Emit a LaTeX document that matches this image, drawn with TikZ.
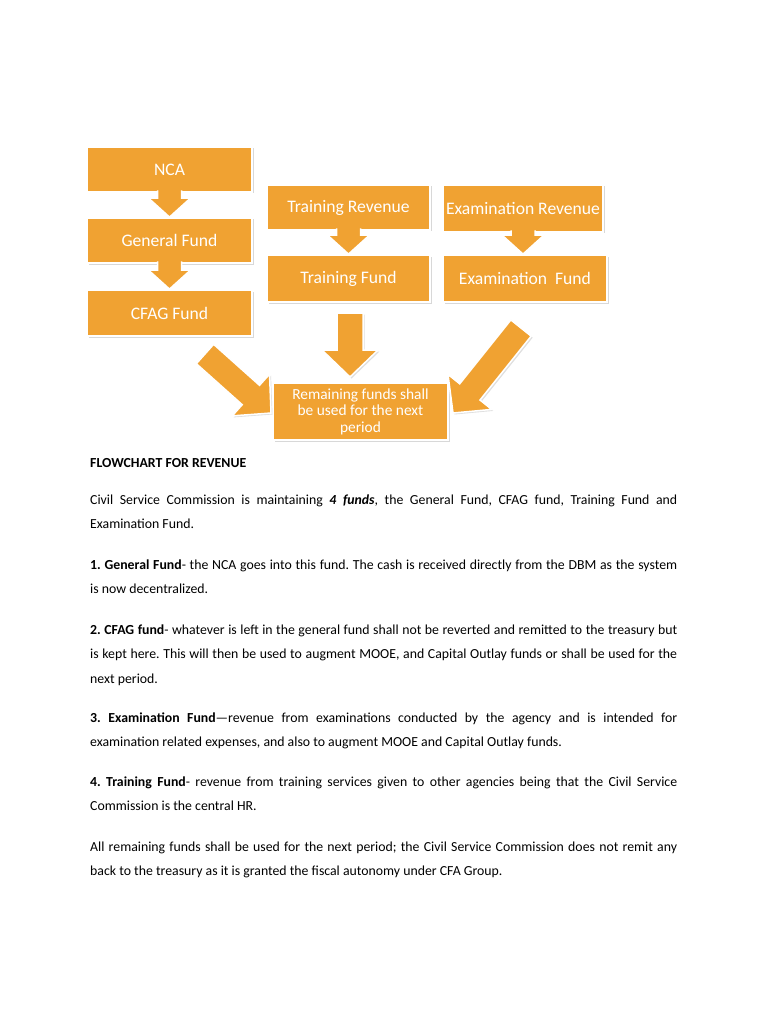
\documentclass[tikz,border=0pt]{standalone}
\usepackage{fontspec}
\setmainfont{Carlito}
\usetikzlibrary{positioning, calc, shadows}

\definecolor{fundorange}{HTML}{F0A232}
\frenchspacing

\tikzset{
    fundbox/.style={draw=white, line width=1.8pt, fill=fundorange, text=white, inner sep=0pt,
        font=\fontsize{17.6}{20}\selectfont,
        drop shadow={opacity=0.3, shadow xshift=1.5pt, shadow yshift=-1.5pt}},
    arrowline/.style={draw=white, line width=1.5pt, line join=miter},
    bigflow/.style={fill=fundorange, arrowline,
        drop shadow={opacity=0.25, shadow xshift=1.5pt, shadow yshift=-1.5pt}},
    para/.style={anchor=base west, inner sep=0pt, text width=587pt, align=justify,
        font=\fontsize{13.8}{24.6}\selectfont},
}

% small chevron from the bottom of one box to the top of the next
\newcommand{\downchevron}[2]{%
    \coordinate (ctop) at (#1.south);
    \coordinate (ctip) at (#1.south |- #2.north);
    \fill[fundorange] ($(ctop)+(-12,-2.5)$) -- ($(ctip)+(-12,-19)$) -- ($(ctip)+(-21,-19)$) -- (ctip)
        -- ($(ctip)+(21,-19)$) -- ($(ctip)+(12,-19)$) -- ($(ctop)+(12,-2.5)$) -- cycle;
    \draw[arrowline] ($(ctop)+(-12,-2.5)$) -- ($(ctip)+(-12,-19)$) -- ($(ctip)+(-21,-19)$) -- (ctip)
        -- ($(ctip)+(21,-19)$) -- ($(ctip)+(12,-19)$) -- ($(ctop)+(12,-2.5)$);
}

% big block arrow from #1 (tail) to #2 (tip)
\newcommand{\bigarrow}[2]{%
    \coordinate (hb) at ($(#2)!27pt!(#1)$);
    \path[bigflow] ($(#1)!13pt!90:(#2)$) -- ($(hb)!13pt!90:(#2)$) -- ($(hb)!28pt!90:(#2)$) -- (#2)
        -- ($(hb)!28pt!-90:(#2)$) -- ($(hb)!13pt!-90:(#2)$) -- ($(#1)!13pt!-90:(#2)$) -- cycle;
}

\begin{document}
\begin{tikzpicture}[x=1pt, y=-1pt]
    \fill[white] (0,0) rectangle (768,1024);
    \useasboundingbox (0,0) rectangle (768,1024);

    % boxes
    \node[fundbox, minimum width=165pt, minimum height=45pt] (nca) at (169.5,169.5) {NCA};
    \node[fundbox, minimum width=165pt, minimum height=45pt] (general) at (169.5,240.5) {General Fund};
    \node[fundbox, minimum width=165pt, minimum height=46pt] (cfag) at (169.5,313) {CFAG Fund};
    \node[fundbox, minimum width=163pt, minimum height=45pt] (trev) at (348.5,207.5) {Training Revenue};
    \node[fundbox, minimum width=163pt, minimum height=47pt] (tfund) at (348.5,278.5) {Training Fund};
    \node[fundbox, minimum width=160pt, minimum height=47pt] (exrev) at (523,208.5) {Examination Revenue};
    \node[fundbox, minimum width=164pt, minimum height=47pt] (exfund) at (525,278.5) {Examination\ \ Fund};
    \node[fundbox, minimum width=175pt, minimum height=57pt, align=center,
        font=\fontsize{15.4}{16.5}\selectfont] (remain) at (360.5,411.5)
        {Remaining funds shall\\be used for the next\\period};

    % chevrons
    \downchevron{nca}{general}
    \downchevron{general}{cfag}
    \downchevron{trev}{tfund}
    \downchevron{exrev}{exfund}

    % big arrows into the last box
    \coordinate (ltail) at (205,354);
    \coordinate (ltip) at (271,413);
    \coordinate (mtail) at (350,313);
    \coordinate (mtip) at (350,377);
    \coordinate (rtail) at (521,328);
    \coordinate (rtip) at (453,413);
    \bigarrow{ltail}{ltip}
    \bigarrow{mtail}{mtip}
    \bigarrow{rtail}{rtip}

    % text below the chart
    \node[anchor=base west, inner sep=0pt, font=\fontsize{13.8}{14}\selectfont\bfseries] (title) at (90,467) {FLOWCHART FOR REVENUE};
    \node[para] (intro) at (90,504) {Civil Service Commission is maintaining \textbf{\textit{4 funds}}, the General Fund, CFAG fund, Training Fund and\linebreak Examination Fund.};
    \node[para] (item1) at (90,569) {\textbf{1. General Fund}- the NCA goes into this fund. The cash is received directly from the DBM as the system\linebreak is now decentralized.};
    \node[para] (item2) at (90,634) {\textbf{2. CFAG fund}- whatever is left in the general fund shall not be reverted and remitted to the treasury but\linebreak is kept here. This will then be used to augment MOOE, and Capital Outlay funds or shall be used for the\linebreak next period.};
    \node[para] (item3) at (90,722) {\textbf{3. Examination Fund}---revenue from examinations conducted by the agency and is intended for\linebreak examination related expenses, and also to augment MOOE and Capital Outlay funds.};
    \node[para] (item4) at (90,786) {\textbf{4. Training Fund}- revenue from training services given to other agencies being that the Civil Service\linebreak Commission is the central HR.};
    \node[para] (closing) at (90,851) {All remaining funds shall be used for the next period; the Civil Service Commission does not remit any\linebreak back to the treasury as it is granted the fiscal autonomy under CFA Group.};
\end{tikzpicture}
\end{document}
